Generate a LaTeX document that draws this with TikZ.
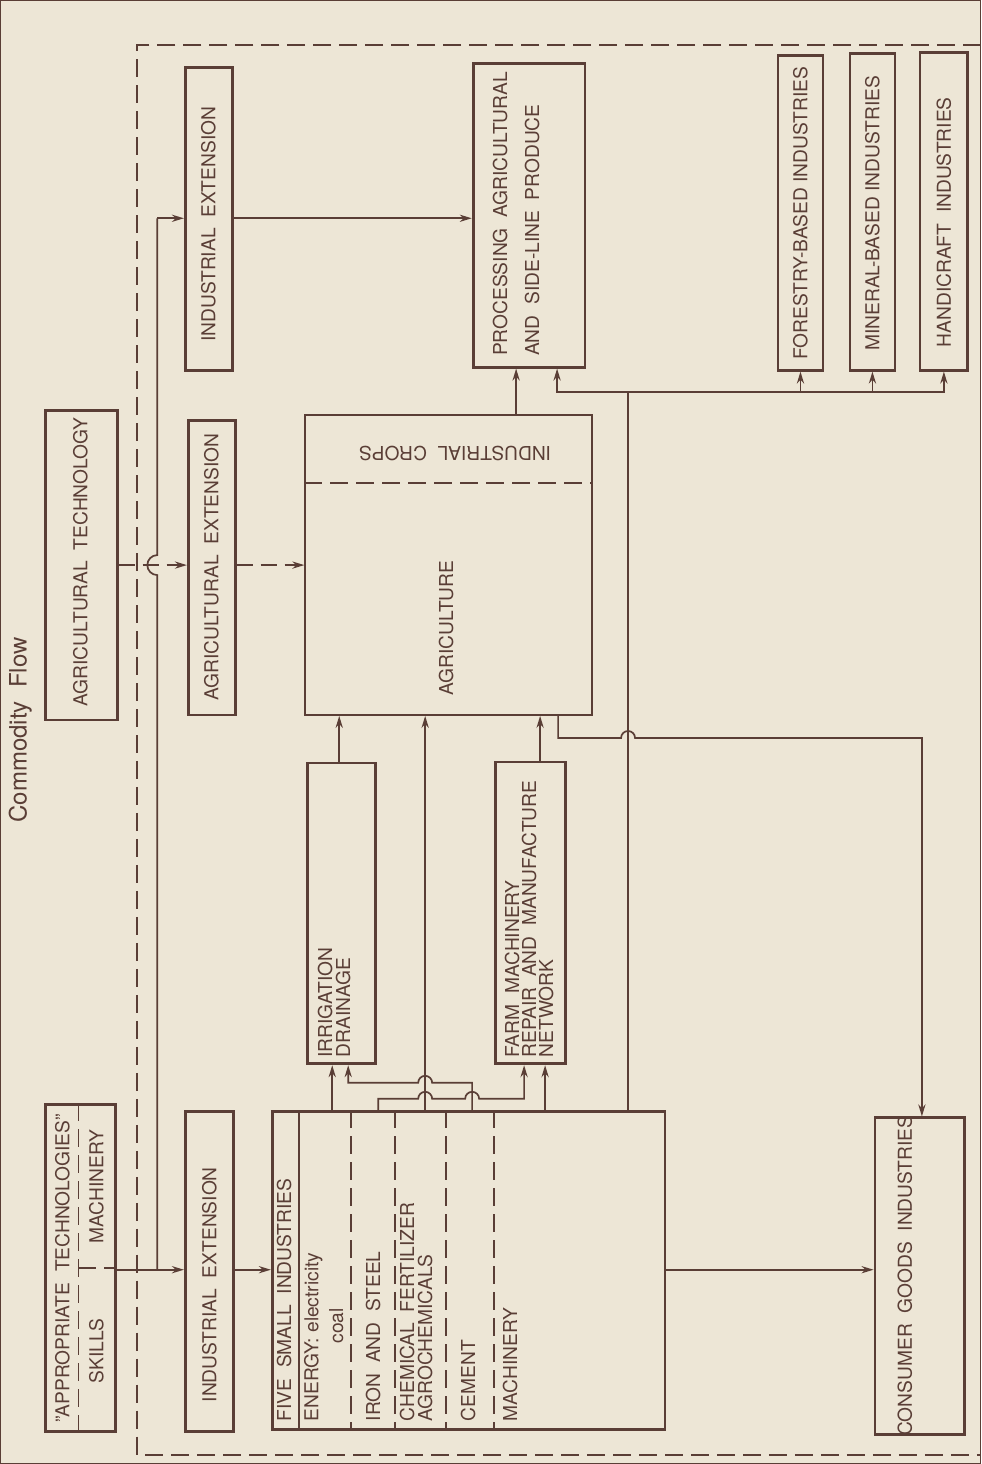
\documentclass[tikz,border=0pt]{standalone}
\usepackage{fontspec}
\setmainfont{TeX Gyre Heros}
\usetikzlibrary{arrows.meta}
\definecolor{ink}{HTML}{5A3E36}
\definecolor{paper}{HTML}{EDE6D6}
\begin{document}
\begin{tikzpicture}[x=0.5pt,y=-0.5pt,
  every path/.style={draw=ink},
  box/.style={draw=ink,line width=1.4pt,rectangle,inner sep=0pt},
  txt/.style={text=ink,font=\fontsize{9.6}{10}\selectfont,rotate=90,inner sep=0pt},
  ln/.style={draw=ink,line width=0.85pt},
  arr/.style={ln,-{Stealth[length=6pt,width=3.6pt]}},
  dsh/.style={dash pattern=on 8pt off 4pt},
  bdash/.style={draw=ink,line width=0.9pt,dash pattern=on 9pt off 4pt}]
\fill[paper] (0,0) rectangle (981,1464);
\useasboundingbox (0,0) rectangle (981,1464);
% outer dashed border
\draw[bdash] (981,45) -- (137,45) -- (137,1455) -- (981,1455);
% title
\node[txt,font=\fontsize{12}{14}\selectfont] (title) at (20,730) {Commodity\ \ Flow};
% boxes
\node[box,minimum width=35pt,minimum height=163.5pt] (apptech) at (80,1268.5) {};
\node[box,minimum width=24pt,minimum height=160pt] (indext1) at (209,1272) {};
\node[box,minimum width=196.5pt,minimum height=159pt] (five) at (468.5,1271) {};
\node[box,minimum width=45pt,minimum height=158.5pt] (consumer) at (920,1276.5) {};
\node[box,minimum width=34pt,minimum height=150.5pt] (irrig) at (341,913.5) {};
\node[box,minimum width=35pt,minimum height=151pt] (farm) at (530,913) {};
\node[box,line width=0.9pt,minimum width=143.5pt,minimum height=150pt] (agri) at (448.5,565) {};
\node[box,minimum width=36pt,minimum height=155pt] (agtech) at (81,565) {};
\node[box,minimum width=23.5pt,minimum height=147.5pt] (agext) at (211.5,567.5) {};
\node[box,minimum width=23.5pt,minimum height=151.5pt] (indext2) at (208.5,218.5) {};
\node[box,minimum width=56pt,minimum height=152pt] (proc) at (529,215) {};
\node[box,minimum width=22.5pt,minimum height=157.5pt] (forest) at (800.5,212.5) {};
\node[box,minimum width=22.5pt,minimum height=158.5pt] (mineral) at (872.5,211.5) {};
\node[box,minimum width=24pt,minimum height=159pt] (handi) at (944,211) {};
% inner dividers
\draw[bdash,line width=0.8pt] (apptech.north west -| 78,0) -- (apptech.south -| 78,0);
\draw[bdash,line width=0.8pt] (78,1268) -- (apptech.east |- 0,1268);
\draw[ln] (five.north -| 299,0) -- (five.south -| 299,0);
\foreach \xx in {351,395,446,494} \draw[bdash,line width=0.8pt] (five.north -| \xx,0) -- (five.south -| \xx,0);
\draw[bdash,line width=0.8pt] (agri.west |- 0,483) -- (agri.east |- 0,483);
% texts
\node[txt] (tapp) at (62,1268.5) {''APPROPRIATE\ \ TECHNOLOGIES''};
\node[txt] (tskills) at (96,1351) {SKILLS};
\node[txt] (tmach) at (96,1187) {MACHINERY};
\node[txt] (tie1) at (209,1285) {INDUSTRIAL\ \ EXTENSION};
\node[txt,anchor=west] (t5a) at (284,1422) {FIVE\ \ SMALL\ \ INDUSTRIES};
\node[txt,anchor=west] (t5b) at (313,1422) {ENERGY:\ electricity};
\node[txt] (t5c) at (336,1326) {coal};
\node[txt,anchor=west] (t5d) at (373,1422) {IRON\ \ AND\ \ STEEL};
\node[txt,anchor=west] (t5e) at (407,1422) {CHEMICAL\ \ FERTILIZER};
\node[txt,anchor=west] (t5f) at (425,1422) {AGROCHEMICALS};
\node[txt,anchor=west] (t5g) at (468,1422) {CEMENT};
\node[txt,anchor=west] (t5h) at (510,1422) {MACHINERY};
\node[txt] (tcons) at (905,1276) {CONSUMER\ \ GOODS\ \ INDUSTRIES};
\node[txt,anchor=west] (tirr1) at (325,1058) {IRRIGATION};
\node[txt,anchor=west] (tirr2) at (343,1058) {DRAINAGE};
\node[txt,anchor=west] (tf1) at (512,1058) {FARM\ \ MACHINERY};
\node[txt,anchor=west] (tf2) at (529,1058) {REPAIR\ \ AND\ \ MANUFACTURE};
\node[txt,anchor=west] (tf3) at (546,1058) {NETWORK};
\node[txt] (tagri) at (446,628) {AGRICULTURE};
\node[txt,rotate=90] (tcrops) at (455,453) {INDUSTRIAL\ \ CROPS};
\node[txt] (tagt) at (80,562) {AGRICULTURAL\ \ TECHNOLOGY};
\node[txt] (tage) at (211,567) {AGRICULTURAL\ \ EXTENSION};
\node[txt] (tie2) at (208,224) {INDUSTRIAL\ \ EXTENSION};
\node[txt,anchor=west] (tp1) at (500,356) {PROCESSING\ \ AGRICULTURAL};
\node[txt,anchor=west] (tp2) at (532,356) {AND\ \ SIDE-LINE\ \ PRODUCE};
\node[txt] (tfo) at (800.5,213) {FORESTRY-BASED INDUSTRIES};
\node[txt] (tmi) at (872.5,213) {MINERAL-BASED INDUSTRIES};
\node[txt] (tha) at (944,222) {HANDICRAFT\ \ INDUSTRIES};
% connectors
\draw[arr] (apptech.east |- 0,1270) -- (indext1.west |- 0,1270);
\draw[ln] (157,1270) -- (157,575) arc (90:270:10) -- (157,218);
\draw[arr] (157,218) -- (indext2.west |- 0,218);
\draw[arr] (indext1.east |- 0,1270) -- (five.west |- 0,1270);
\draw[arr] (five.east |- 0,1270) -- (consumer.west |- 0,1270);
\draw[arr,dsh] (agtech.east |- 0,565) -- (agext.west |- 0,565);
\draw[arr,dsh] (agext.east |- 0,565) -- (agri.west |- 0,565);
\draw[arr] (indext2.east |- 0,218) -- (proc.west |- 0,218);
\draw[arr] (agri.north -| 516,0) -- (proc.south -| 516,0);
\draw[ln] (five.north -| 628,0) -- (628,392);
\draw[arr] (628,392) -| (proc.south -| 557,0);
\draw[arr] (628,392) -| (handi.south);
\draw[arr] (forest.south |- 0,392) -- (forest.south);
\draw[arr] (mineral.south |- 0,392) -- (mineral.south);
\draw[arr] (irrig.north -| 339,0) -- (agri.south -| 339,0);
\draw[arr] (farm.north -| 540,0) -- (agri.south -| 540,0);
\draw[arr] (five.north -| 425,0) -- (agri.south -| 425,0);
\draw[arr] (agri.south -| 558,0) -- (558,738) -- (621,738) arc (180:360:7) -- (922,738) -- (consumer.north -| 922,0);
\draw[arr] (five.north -| 332,0) -- (irrig.south -| 332,0);
\draw[arr] (five.north -| 472,0) -- (472,1083) -- (432,1083) arc (0:-180:7) -- (348,1083) -- (irrig.south -| 348,0);
\draw[arr] (five.north -| 378,0) -- (378,1099) -- (418,1099) arc (180:360:7) -- (465,1099) arc (180:360:7) -- (524,1099) -- (farm.south -| 524,0);
\draw[arr] (five.north -| 545,0) -- (farm.south -| 545,0);
\end{tikzpicture}
\end{document}
